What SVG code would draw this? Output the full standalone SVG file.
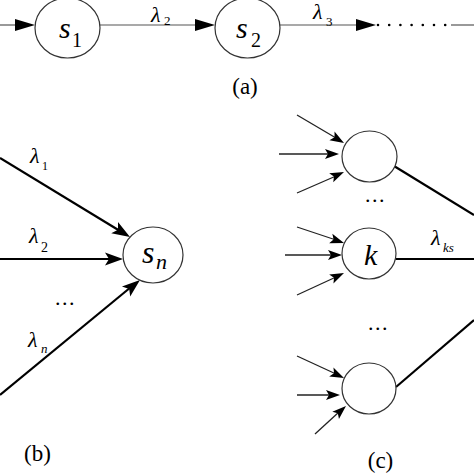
<svg xmlns="http://www.w3.org/2000/svg" xmlns:xlink="http://www.w3.org/1999/xlink" width="474" height="474" viewBox="0 0 474 474" font-family="Liberation Serif">
<defs>
<path id="ha" d="M-20,-6 L0,0 L-20,6 z" fill="#000"/>
<path id="hb" d="M-18,-6.5 L0,0 L-18,6.5 L-14,0 z" fill="#000"/>
<path id="hc" d="M-14,-5 L0,0 L-14,5 L-11,0 z" fill="#000"/>
</defs>

<g id="connectors">
<g stroke="#555" stroke-width="1.2" fill="none">
<line x1="0" y1="25" x2="30" y2="25"/>
<line x1="100" y1="25" x2="210" y2="25"/>
<line x1="280" y1="25" x2="370" y2="25"/>
<line x1="451" y1="25" x2="474" y2="25"/>
</g>
<use xlink:href="#ha" href="#ha" transform="translate(35,25)"/>
<use xlink:href="#ha" href="#ha" transform="translate(215,25)"/>
<use xlink:href="#ha" href="#ha" transform="translate(376,25)"/>
<line x1="378" y1="25" x2="446" y2="25" stroke="#000" stroke-width="2.6" stroke-linecap="round" stroke-dasharray="0 11.2"/>
<g stroke="#000" stroke-width="2.2" fill="none">
<line x1="0" y1="158" x2="120" y2="231"/>
<line x1="0" y1="259" x2="112" y2="259"/>
<line x1="0" y1="395" x2="131" y2="287"/>
<line x1="394" y1="166" x2="474" y2="215"/>
<line x1="396" y1="259" x2="474" y2="259"/>
<line x1="396" y1="387" x2="474" y2="320"/>
</g>
<use xlink:href="#hb" href="#hb" transform="translate(130,237) rotate(31.3)"/>
<use xlink:href="#hb" href="#hb" transform="translate(123,259)"/>
<use xlink:href="#hb" href="#hb" transform="translate(140,280) rotate(-39.4)"/>
<g stroke="#222" stroke-width="1.3" fill="none">
<line x1="297" y1="115" x2="336" y2="138"/>
<line x1="279" y1="154" x2="330" y2="154"/>
<line x1="297" y1="193" x2="336" y2="176"/>
<line x1="297" y1="227" x2="336" y2="240"/>
<line x1="285" y1="255" x2="333" y2="255"/>
<line x1="297" y1="295" x2="336" y2="277"/>
<line x1="297" y1="356" x2="336" y2="374"/>
<line x1="297" y1="395" x2="331" y2="395"/>
<line x1="315" y1="434" x2="339" y2="412"/>
</g>
<use xlink:href="#hc" href="#hc" transform="translate(344,143) rotate(30.8)"/>
<use xlink:href="#hc" href="#hc" transform="translate(339,154)"/>
<use xlink:href="#hc" href="#hc" transform="translate(344,172) rotate(-24.1)"/>
<use xlink:href="#hc" href="#hc" transform="translate(344,243) rotate(18.8)"/>
<use xlink:href="#hc" href="#hc" transform="translate(342,255)"/>
<use xlink:href="#hc" href="#hc" transform="translate(344,273) rotate(-25.1)"/>
<use xlink:href="#hc" href="#hc" transform="translate(344,378) rotate(25.1)"/>
<use xlink:href="#hc" href="#hc" transform="translate(340,395)"/>
<use xlink:href="#hc" href="#hc" transform="translate(346,406) rotate(-42.1)"/>
</g>

<g id="s1">
<ellipse cx="67.5" cy="28" rx="32.5" ry="30" fill="#fff" stroke="#333" stroke-width="1.2"/>
<text font-family="Liberation Serif" font-style="italic" x="59" y="38" font-size="30">s</text>
<text font-family="Liberation Serif" x="72" y="47" font-size="20">1</text>
</g>
<g id="s2">
<ellipse cx="247.5" cy="28" rx="32.5" ry="30" fill="#fff" stroke="#333" stroke-width="1.2"/>
<text font-family="Liberation Serif" font-style="italic" x="236" y="38" font-size="30">s</text>
<text font-family="Liberation Serif" x="251" y="47" font-size="20">2</text>
</g>
<g id="sn">
<ellipse cx="153" cy="255" rx="30" ry="28" fill="#fff" stroke="#333" stroke-width="1.2"/>
<text font-family="Liberation Serif" font-style="italic" x="142" y="263" font-size="32">s</text>
<text font-family="Liberation Serif" font-style="italic" x="156" y="269" font-size="22">n</text>
</g>
<g id="c1"><ellipse cx="369.5" cy="156.5" rx="27.5" ry="25.5" fill="#fff" stroke="#333" stroke-width="1.2"/></g>
<g id="k">
<ellipse cx="369" cy="253.5" rx="27" ry="25.5" fill="#fff" stroke="#333" stroke-width="1.2"/>
<text font-family="Liberation Serif" font-style="italic" x="364" y="265" font-size="30">k</text>
</g>
<g id="c3"><ellipse cx="369" cy="388.5" rx="27" ry="25.5" fill="#fff" stroke="#333" stroke-width="1.2"/></g>

<g id="labels">
<text font-family="Liberation Serif" font-style="italic" x="151" y="22" font-size="22">λ</text><text font-family="Liberation Serif" x="164" y="25" font-size="13">2</text>
<text font-family="Liberation Serif" font-style="italic" x="313" y="19" font-size="22">λ</text><text font-family="Liberation Serif" x="326" y="26" font-size="13">3</text>
<text font-family="Liberation Serif" x="245" y="94" font-size="23" text-anchor="middle">(a)</text>
<text font-family="Liberation Serif" font-style="italic" x="30" y="163" font-size="22">λ</text><text font-family="Liberation Serif" x="42" y="170" font-size="12">1</text>
<text font-family="Liberation Serif" font-style="italic" x="29" y="243" font-size="22">λ</text><text font-family="Liberation Serif" x="41" y="252" font-size="14">2</text>
<text font-family="Liberation Serif" x="55" y="305" font-size="22" letter-spacing="1.5">...</text>
<text font-family="Liberation Serif" font-style="italic" x="28" y="347" font-size="22">λ</text><text font-family="Liberation Serif" font-style="italic" x="41" y="353" font-size="13">n</text>
<text font-family="Liberation Serif" x="37.5" y="461" font-size="23" text-anchor="middle">(b)</text>
<text font-family="Liberation Serif" x="365" y="202" font-size="22" letter-spacing="1.5">...</text>
<text font-family="Liberation Serif" x="368" y="330" font-size="22" letter-spacing="1.5">...</text>
<text font-family="Liberation Serif" font-style="italic" x="431" y="245" font-size="22">λ</text><text font-family="Liberation Serif" font-style="italic" x="443" y="252" font-size="13">ks</text>
<text font-family="Liberation Serif" x="380.5" y="468" font-size="23" text-anchor="middle">(c)</text>
</g>
</svg>
